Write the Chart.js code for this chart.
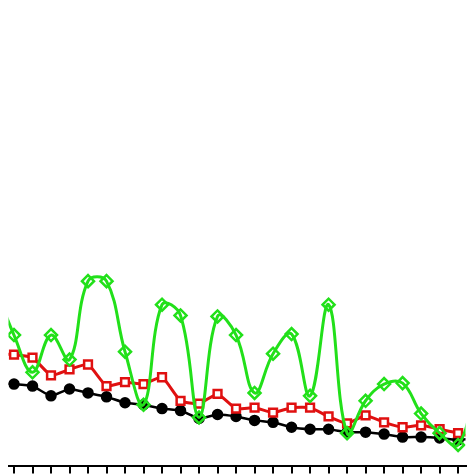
<!DOCTYPE html>
<html>
<head>
<script src="https://cdn.jsdelivr.net/npm/chart.js@4"></script>
<style>html,body{margin:0;padding:0;background:#fff}#wrap{width:474px;height:474px}</style>
</head>
<body>
<div id="wrap"><canvas id="myChart"></canvas></div>
<script>
// sample index along x, value measured up from the axis
const steps = [0,1,2,3,4,5,6,7,8,9,10,11,12,13,14,15,16,17,18,19,20,21,22,23,24,25,26];
const blackVals = [84,83,81,71,78,74,70,64,62,58,56,48,52,50,46,44,39,37,37,34,34,32,29,29,28,26,28];
const redVals = [114,113,110,92,98,103,81,85,83,90,66,63,73,58,59,54,59,59,50,43,51,44,39,41,37,33,28];
const greenVals = [181,133,95,133,108,188,188,116,62,164,153,49,152,133,74,114,134,71,164,33,66,83,84,53,33,21,84];

const pts = (arr) => arr.map((v, i) => ({x: steps[i], y: v}));

const plugin = {
    id: 'white_bg',
    beforeDraw: (chart) => {
        const ctx = chart.ctx;
        ctx.save();
        ctx.fillStyle = 'white';
        ctx.fillRect(0, 0, chart.width, chart.height);
        ctx.restore();
    }
};

const ctx = document.getElementById("myChart").getContext("2d");
new Chart(ctx, {
    type: "line",
    plugins: [plugin],
    data: {
        datasets: [{
            data: pts(greenVals),
            borderColor: '#22e01a', borderWidth: 3,
            pointStyle: 'rectRot', pointRadius: 6, pointBorderWidth: 2.5,
            pointBackgroundColor: 'rgba(0,0,0,0)', pointBorderColor: '#22e01a',
            tension: 0.4
        }, {
            data: pts(redVals),
            borderColor: '#e01010', borderWidth: 3,
            pointStyle: 'rect', pointRadius: 5.5, pointBorderWidth: 2.5,
            pointBackgroundColor: 'white', pointBorderColor: '#e01010',
            tension: 0.15
        }, {
            data: pts(blackVals),
            borderColor: 'black', borderWidth: 2.5,
            pointStyle: 'circle', pointRadius: 4.5,
            pointBackgroundColor: 'black', pointBorderColor: 'black',
            tension: 0.15
        }]
    },
    options: {
        responsive: true, maintainAspectRatio: false, animation: false,
        layout: {padding: 0},
        plugins: {legend: {display: false}, tooltip: {enabled: false}},
        scales: {
            x: {
                type: 'linear', min: 0.703, max: 25.4,
                afterBuildTicks: (s) => { s.ticks = steps.slice(1, 26).map(v => ({value: v})); },
                afterFit: (s) => { s.height = 8; },
                ticks: {display: false},
                grid: {drawOnChartArea: false, tickLength: 8, color: 'black', lineWidth: 2},
                border: {display: true, color: 'black', width: 2}
            },
            y: {display: false, min: 0, max: 466}
        }
    }
});
</script>
</body>
</html>
